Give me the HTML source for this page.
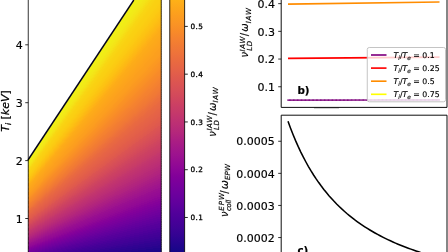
<!DOCTYPE html><html><head><meta charset="utf-8"><style>html,body{margin:0;padding:0;background:#fff;overflow:hidden}svg{display:block}</style></head><body><svg width="448" height="252" viewBox="0 0 448 252" font-family="'DejaVu Sans','Liberation Sans',sans-serif"><defs><linearGradient id="cb" gradientUnits="userSpaceOnUse" x1="0" y1="-20" x2="0" y2="272"><stop offset="0.0000" stop-color="#fbcc12"/><stop offset="0.0250" stop-color="#fdc212"/><stop offset="0.0500" stop-color="#fdb914"/><stop offset="0.0750" stop-color="#feae18"/><stop offset="0.1000" stop-color="#fda51b"/><stop offset="0.1250" stop-color="#fc9c1f"/><stop offset="0.1500" stop-color="#fa9424"/><stop offset="0.1750" stop-color="#f88b28"/><stop offset="0.2000" stop-color="#f5822f"/><stop offset="0.2250" stop-color="#f17a34"/><stop offset="0.2500" stop-color="#ee733a"/><stop offset="0.2750" stop-color="#ea6b3f"/><stop offset="0.3000" stop-color="#e66445"/><stop offset="0.3250" stop-color="#e15c4b"/><stop offset="0.3500" stop-color="#dc5551"/><stop offset="0.3750" stop-color="#d74f57"/><stop offset="0.4000" stop-color="#d2485c"/><stop offset="0.4250" stop-color="#cc4063"/><stop offset="0.4500" stop-color="#c63a69"/><stop offset="0.4750" stop-color="#c03370"/><stop offset="0.5000" stop-color="#ba2d76"/><stop offset="0.5250" stop-color="#b3267c"/><stop offset="0.5500" stop-color="#ab1e83"/><stop offset="0.5750" stop-color="#a31889"/><stop offset="0.6000" stop-color="#9c128f"/><stop offset="0.6250" stop-color="#940b93"/><stop offset="0.6500" stop-color="#8b0597"/><stop offset="0.6750" stop-color="#81009a"/><stop offset="0.7000" stop-color="#78009c"/><stop offset="0.7250" stop-color="#6f009d"/><stop offset="0.7500" stop-color="#66009d"/><stop offset="0.7750" stop-color="#5c009c"/><stop offset="0.8000" stop-color="#51009a"/><stop offset="0.8250" stop-color="#480098"/><stop offset="0.8500" stop-color="#3e0295"/><stop offset="0.8750" stop-color="#330392"/><stop offset="0.9000" stop-color="#26048e"/><stop offset="0.9250" stop-color="#190689"/><stop offset="0.9500" stop-color="#0d0785"/><stop offset="0.9750" stop-color="#0d0785"/><stop offset="1.0000" stop-color="#0d0785"/></linearGradient><clipPath id="hm"><polygon points="28.25,160 133.81,0 161.25,0 161.25,252 28.25,252"/></clipPath></defs><rect width="448" height="252" fill="#fff"/><g clip-path="url(#hm)" shape-rendering="crispEdges"><polygon points="-48.15,276.40 551.85,276.40 551.77,266.36" fill="#0d0785"/><polygon points="-48.15,276.40 551.82,269.99 551.62,259.95" fill="#0d0785"/><polygon points="-48.15,276.40 551.71,263.59 551.41,253.55" fill="#0d0785"/><polygon points="-48.15,276.40 551.54,257.18 551.14,247.16" fill="#0d0785"/><polygon points="-48.15,276.40 551.30,250.79 550.79,240.78" fill="#0d0785"/><polygon points="-48.15,276.40 551.00,244.40 550.38,234.41" fill="#0d0785"/><polygon points="-48.15,276.40 550.62,238.03 549.90,228.06" fill="#0d0785"/><polygon points="-48.15,276.40 550.18,231.66 549.35,221.72" fill="#0d0785"/><polygon points="-48.15,276.40 549.67,225.32 548.74,215.40" fill="#0d0785"/><polygon points="-48.15,276.40 549.10,218.99 548.06,209.10" fill="#0d0785"/><polygon points="-48.15,276.40 548.46,212.68 547.32,202.83" fill="#160688"/><polygon points="-48.15,276.40 547.75,206.39 546.52,196.57" fill="#1d058b"/><polygon points="-48.15,276.40 546.98,200.12 545.65,190.35" fill="#22048c"/><polygon points="-48.15,276.40 546.15,193.88 544.72,184.15" fill="#28048e"/><polygon points="-48.15,276.40 545.25,187.66 543.72,177.98" fill="#2e0390"/><polygon points="-48.15,276.40 544.29,181.48 542.67,171.85" fill="#310392"/><polygon points="-48.15,276.40 543.28,175.33 541.56,165.75" fill="#370293"/><polygon points="-48.15,276.40 542.20,169.21 540.39,159.68" fill="#3c0295"/><polygon points="-48.15,276.40 541.06,163.12 539.16,153.65" fill="#410196"/><polygon points="-48.15,276.40 539.86,157.07 537.88,147.66" fill="#440197"/><polygon points="-48.15,276.40 538.61,151.05 536.54,141.71" fill="#490099"/><polygon points="-48.15,276.40 537.30,145.08 535.14,135.80" fill="#4e009a"/><polygon points="-48.15,276.40 535.94,139.15 533.70,129.93" fill="#53009b"/><polygon points="-48.15,276.40 534.52,133.26 532.20,124.11" fill="#56009b"/><polygon points="-48.15,276.40 533.06,127.41 530.65,118.33" fill="#5b009c"/><polygon points="-48.15,276.40 531.54,121.61 529.06,112.60" fill="#60009d"/><polygon points="-48.15,276.40 529.97,115.85 527.42,106.92" fill="#64009d"/><polygon points="-48.15,276.40 528.35,110.14 525.73,101.29" fill="#69009d"/><polygon points="-48.15,276.40 526.69,104.48 524.00,95.71" fill="#6e009d"/><polygon points="-48.15,276.40 524.98,98.87 522.22,90.18" fill="#72009d"/><polygon points="-48.15,276.40 523.23,93.31 520.40,84.70" fill="#77009c"/><polygon points="-48.15,276.40 521.44,87.80 518.54,79.27" fill="#7b009c"/><polygon points="-48.15,276.40 519.60,82.34 516.64,73.90" fill="#80009b"/><polygon points="-48.15,276.40 517.73,76.94 514.71,68.58" fill="#84019a"/><polygon points="-48.15,276.40 515.81,71.59 512.74,63.32" fill="#880398"/><polygon points="-48.15,276.40 513.86,66.30 510.73,58.11" fill="#8d0696"/><polygon points="-48.15,276.40 511.87,61.06 508.69,52.96" fill="#910995"/><polygon points="-48.15,276.40 509.85,55.88 506.62,47.86" fill="#940b93"/><polygon points="-48.15,276.40 507.80,50.75 504.52,42.83" fill="#960d92"/><polygon points="-48.15,276.40 505.72,45.68 502.39,37.85" fill="#990f90"/><polygon points="-48.15,276.40 503.60,40.67 500.23,32.92" fill="#9d138e"/><polygon points="-48.15,276.40 501.46,35.71 498.04,28.06" fill="#a0158c"/><polygon points="-48.15,276.40 499.29,30.81 495.83,23.26" fill="#a31889"/><polygon points="-48.15,276.40 497.09,25.98 493.60,18.51" fill="#a61a87"/><polygon points="-48.15,276.40 494.87,21.20 491.34,13.82" fill="#aa1d84"/><polygon points="-48.15,276.40 492.63,16.47 489.06,9.19" fill="#ac2082"/><polygon points="-48.15,276.40 490.36,11.81 486.77,4.62" fill="#b0237f"/><polygon points="-48.15,276.40 488.07,7.21 484.45,0.11" fill="#b2257d"/><polygon points="-48.15,276.40 485.77,2.66 482.12,-4.34" fill="#b5287a"/><polygon points="-48.15,276.40 483.44,-1.82 479.77,-8.74" fill="#b72a78"/><polygon points="-48.15,276.40 481.10,-6.25 477.40,-13.07" fill="#ba2d76"/><polygon points="-48.15,276.40 478.75,-10.62 475.02,-17.35" fill="#bc2f74"/><polygon points="-48.15,276.40 476.37,-14.93 472.63,-21.57" fill="#be3172"/><polygon points="-48.15,276.40 473.99,-19.18 470.23,-25.73" fill="#c03370"/><polygon points="-48.15,276.40 471.59,-23.38 467.81,-29.84" fill="#c2356e"/><polygon points="-48.15,276.40 469.18,-27.52 465.39,-33.88" fill="#c4386c"/><polygon points="-48.15,276.40 466.77,-31.59 462.96,-37.87" fill="#c73b68"/><polygon points="-48.15,276.40 464.34,-35.62 460.52,-41.81" fill="#c93d66"/><polygon points="-48.15,276.40 461.90,-39.58 458.07,-45.68" fill="#cb3f64"/><polygon points="-48.15,276.40 459.46,-43.49 455.62,-49.51" fill="#cc4162"/><polygon points="-48.15,276.40 457.01,-47.34 453.17,-53.27" fill="#ce4460"/><polygon points="-48.15,276.40 454.56,-51.14 450.71,-56.98" fill="#d0465e"/><polygon points="-48.15,276.40 452.10,-54.88 448.24,-60.64" fill="#d3495b"/><polygon points="-48.15,276.40 449.64,-58.57 445.78,-64.24" fill="#d54b5a"/><polygon points="-48.15,276.40 447.18,-62.20 443.31,-67.79" fill="#d64e58"/><polygon points="-48.15,276.40 444.71,-65.78 440.84,-71.28" fill="#d85056"/><polygon points="-48.15,276.40 442.24,-69.31 438.38,-74.73" fill="#da5254"/><polygon points="-48.15,276.40 439.78,-72.78 435.91,-78.12" fill="#db5452"/><polygon points="-48.15,276.40 437.31,-76.20 433.45,-81.46" fill="#de584f"/><polygon points="-48.15,276.40 434.85,-79.57 430.99,-84.75" fill="#df5a4d"/><polygon points="-48.15,276.40 432.38,-82.89 428.53,-87.99" fill="#e15c4b"/><polygon points="-48.15,276.40 429.92,-86.15 426.07,-91.17" fill="#e25d4a"/><polygon points="-48.15,276.40 427.47,-89.37 423.62,-94.31" fill="#e36048"/><polygon points="-48.15,276.40 425.01,-92.54 421.18,-97.41" fill="#e46148"/><polygon points="-48.15,276.40 422.57,-95.66 418.74,-100.45" fill="#e56346"/><polygon points="-48.15,276.40 420.12,-98.73 416.30,-103.44" fill="#e66445"/><polygon points="-48.15,276.40 417.69,-101.75 413.88,-106.39" fill="#e76743"/><polygon points="-48.15,276.40 415.25,-104.73 411.46,-109.30" fill="#e86842"/><polygon points="-48.15,276.40 412.83,-107.66 409.04,-112.16" fill="#e96a40"/><polygon points="-48.15,276.40 410.41,-110.54 406.64,-114.97" fill="#eb6d3e"/><polygon points="-48.15,276.40 408.00,-113.38 404.24,-117.74" fill="#ec6f3c"/><polygon points="-48.15,276.40 405.60,-116.17 401.85,-120.46" fill="#ed723b"/><polygon points="-48.15,276.40 403.20,-118.92 399.47,-123.15" fill="#ef7538"/><polygon points="-48.15,276.40 400.82,-121.63 397.10,-125.79" fill="#f07836"/><polygon points="-48.15,276.40 398.44,-124.29 394.74,-128.38" fill="#f17a34"/><polygon points="-48.15,276.40 396.08,-126.91 392.39,-130.94" fill="#f27c33"/><polygon points="-48.15,276.40 393.72,-129.49 390.05,-133.46" fill="#f37e31"/><polygon points="-48.15,276.40 391.38,-132.03 387.72,-135.93" fill="#f48130"/><polygon points="-48.15,276.40 389.04,-134.53 385.40,-138.37" fill="#f5822f"/><polygon points="-48.15,276.40 386.71,-136.99 383.09,-140.77" fill="#f6852d"/><polygon points="-48.15,276.40 384.40,-139.41 380.80,-143.13" fill="#f7872b"/><polygon points="-48.15,276.40 382.10,-141.79 378.51,-145.45" fill="#f78a29"/><polygon points="-48.15,276.40 379.81,-144.14 376.24,-147.74" fill="#f88b28"/><polygon points="-48.15,276.40 377.53,-146.45 373.98,-149.99" fill="#f98e27"/><polygon points="-48.15,276.40 375.26,-148.72 371.73,-152.20" fill="#f99125"/><polygon points="-48.15,276.40 373.01,-150.95 369.49,-154.38" fill="#fa9224"/><polygon points="-48.15,276.40 370.76,-153.15 367.27,-156.53" fill="#fa9523"/><polygon points="-48.15,276.40 368.53,-155.31 365.06,-158.64" fill="#fb9821"/><polygon points="-48.15,276.40 366.31,-157.44 362.86,-160.71" fill="#fb9921"/><polygon points="-48.15,276.40 364.11,-159.54 360.68,-162.76" fill="#fc9c1f"/><polygon points="-48.15,276.40 361.92,-161.60 358.51,-164.77" fill="#fc9e1f"/><polygon points="-48.15,276.40 359.74,-163.63 356.35,-166.75" fill="#fc9f1e"/><polygon points="-48.15,276.40 357.57,-165.63 354.21,-168.70" fill="#fca01d"/><polygon points="-48.15,276.40 355.42,-167.59 352.07,-170.61" fill="#fda21d"/><polygon points="-48.15,276.40 353.28,-169.53 349.96,-172.50" fill="#fda31c"/><polygon points="-48.15,276.40 351.16,-171.43 347.85,-174.36" fill="#fda51b"/><polygon points="-48.15,276.40 349.05,-173.31 345.76,-176.18" fill="#fda61b"/><polygon points="-48.15,276.40 346.95,-175.15 343.69,-177.98" fill="#fda81a"/><polygon points="-48.15,276.40 344.86,-176.97 341.62,-179.75" fill="#fda919"/><polygon points="-48.15,276.40 342.79,-178.75 339.57,-181.50" fill="#fdab19"/><polygon points="-48.15,276.40 340.74,-180.51 337.54,-183.21" fill="#fdac18"/><polygon points="-48.15,276.40 338.69,-182.24 335.52,-184.90" fill="#feaf17"/><polygon points="-48.15,276.40 336.66,-183.95 333.51,-186.56" fill="#feb216"/><polygon points="-48.15,276.40 334.65,-185.62 331.51,-188.20" fill="#feb615"/><polygon points="-48.15,276.40 332.65,-187.28 329.53,-189.81" fill="#fdb914"/><polygon points="-48.15,276.40 330.66,-188.90 327.57,-191.40" fill="#fdbc13"/><polygon points="-48.15,276.40 328.68,-190.50 325.62,-192.96" fill="#fdbf13"/><polygon points="-48.15,276.40 326.72,-192.08 323.68,-194.50" fill="#fdc212"/><polygon points="-48.15,276.40 324.78,-193.63 321.75,-196.01" fill="#fcc412"/><polygon points="-48.15,276.40 322.84,-195.15 319.84,-197.50" fill="#fcc612"/><polygon points="-48.15,276.40 320.93,-196.66 317.94,-198.97" fill="#fcc912"/><polygon points="-48.15,276.40 319.02,-198.14 316.06,-200.41" fill="#fbcb12"/><polygon points="-48.15,276.40 317.13,-199.60 314.19,-201.83" fill="#fbcc12"/><polygon points="-48.15,276.40 315.25,-201.03 312.34,-203.24" fill="#fbce12"/><polygon points="-48.15,276.40 313.39,-202.44 310.49,-204.61" fill="#fad012"/><polygon points="-48.15,276.40 311.54,-203.83 308.66,-205.97" fill="#fad012"/><polygon points="-48.15,276.40 309.70,-205.20 306.85,-207.31" fill="#fad112"/><polygon points="-48.15,276.40 307.88,-206.55 305.05,-208.63" fill="#f9d313"/><polygon points="-48.15,276.40 306.07,-207.88 303.26,-209.93" fill="#f9d513"/><polygon points="-48.15,276.40 304.27,-209.19 301.48,-211.20" fill="#f8d613"/><polygon points="-48.15,276.40 302.49,-210.48 299.72,-212.46" fill="#f7da14"/><polygon points="-48.15,276.40 300.72,-211.75 297.97,-213.70" fill="#f6dd15"/><polygon points="-48.15,276.40 298.96,-213.00 296.24,-214.92" fill="#f5e116"/><polygon points="-48.15,276.40 297.22,-214.23 294.51,-216.12" fill="#f4e417"/><polygon points="-48.15,276.40 295.49,-215.44 292.81,-217.31" fill="#f3e617"/><polygon points="-48.15,276.40 293.77,-216.64 291.11,-218.48" fill="#f3e818"/><polygon points="-48.15,276.40 292.07,-217.82 289.43,-219.63" fill="#f1eb17"/><polygon points="-48.15,276.40 290.38,-218.98 287.75,-220.76" fill="#f1eb17"/><polygon points="-48.15,276.40 288.70,-220.12 286.10,-221.88" fill="#f1ed17"/><polygon points="-48.15,276.40 287.04,-221.24 284.45,-222.98" fill="#f0ef15"/><polygon points="-48.15,276.40 285.38,-222.35 282.82,-224.06" fill="#f0ef15"/><polygon points="-48.15,276.40 283.74,-223.45 281.20,-225.13" fill="#f0f013"/><polygon points="-48.15,276.40 282.12,-224.52 279.59,-226.18" fill="#f0f013"/><polygon points="-48.15,276.40 280.50,-225.58 277.99,-227.22" fill="#f0f013"/><polygon points="-48.15,276.40 278.90,-226.63 276.41,-228.24" fill="#f0f013"/><polygon points="-48.15,276.40 277.31,-227.66 274.84,-229.25" fill="#f0f013"/><polygon points="-48.15,276.40 275.73,-228.68 273.28,-230.24" fill="#f0f013"/><polygon points="-48.15,276.40 274.16,-229.68 271.73,-231.22" fill="#f0f013"/><polygon points="-48.15,276.40 272.61,-230.66 270.20,-232.18" fill="#f0f013"/></g><line x1="28.0" y1="160" x2="133.81" y2="0" stroke="#03031c" stroke-width="1.45"/><line x1="28.25" y1="0" x2="28.25" y2="252" stroke="#000" stroke-width="0.8"/><line x1="161.25" y1="0" x2="161.25" y2="252" stroke="#000" stroke-width="0.8"/><line x1="25.25" y1="218.5" x2="28.25" y2="218.5" stroke="#000" stroke-width="0.8"/><text x="22.65" y="222.7" font-size="11" text-anchor="end" stroke="#000" stroke-width="0.17">1</text><line x1="25.25" y1="160.6" x2="28.25" y2="160.6" stroke="#000" stroke-width="0.8"/><text x="22.65" y="164.79999999999998" font-size="11" text-anchor="end" stroke="#000" stroke-width="0.17">2</text><line x1="25.25" y1="102.7" x2="28.25" y2="102.7" stroke="#000" stroke-width="0.8"/><text x="22.65" y="106.9" font-size="11" text-anchor="end" stroke="#000" stroke-width="0.17">3</text><line x1="25.25" y1="44.80000000000001" x2="28.25" y2="44.80000000000001" stroke="#000" stroke-width="0.8"/><text x="22.65" y="49.000000000000014" font-size="11" text-anchor="end" stroke="#000" stroke-width="0.17">4</text><text transform="translate(8.6,111) rotate(-90)" font-size="11" text-anchor="middle" stroke="#000" stroke-width="0.25"><tspan font-style="italic">T</tspan><tspan font-size="7.7" dy="2" font-style="italic">i</tspan><tspan dy="-2"> [</tspan><tspan font-style="italic">keV</tspan>]</text><rect x="169.8" y="-5" width="14.899999999999977" height="262" fill="url(#cb)" stroke="#000" stroke-width="0.8"/><line x1="184.7" y1="217.48" x2="187.79999999999998" y2="217.48" stroke="#111" stroke-width="0.9"/><text x="190.5" y="220.08" font-size="7.3" letter-spacing="0.4" stroke="#000" stroke-width="0.3">0.1</text><line x1="184.7" y1="169.71" x2="187.79999999999998" y2="169.71" stroke="#111" stroke-width="0.9"/><text x="190.5" y="172.31" font-size="7.3" letter-spacing="0.4" stroke="#000" stroke-width="0.3">0.2</text><line x1="184.7" y1="121.94" x2="187.79999999999998" y2="121.94" stroke="#111" stroke-width="0.9"/><text x="190.5" y="124.54" font-size="7.3" letter-spacing="0.4" stroke="#000" stroke-width="0.3">0.3</text><line x1="184.7" y1="74.17" x2="187.79999999999998" y2="74.17" stroke="#111" stroke-width="0.9"/><text x="190.5" y="76.77" font-size="7.3" letter-spacing="0.4" stroke="#000" stroke-width="0.3">0.4</text><line x1="184.7" y1="26.40" x2="187.79999999999998" y2="26.40" stroke="#111" stroke-width="0.9"/><text x="190.5" y="29.00" font-size="7.3" letter-spacing="0.4" stroke="#000" stroke-width="0.3">0.5</text><g transform="translate(215.6,136.8) rotate(-90)" stroke="#000" stroke-width="0.17"><text x="0" y="0" font-size="10" font-style="italic">ν</text><text x="6.2" y="-3.7" font-size="7" font-style="italic" letter-spacing="0.6">IAW</text><text x="6.8" y="3.7" font-size="7" font-style="italic" letter-spacing="0.7">LD</text><text x="21.4" y="0" font-size="10">/</text><text x="25.8" y="0" font-size="10" font-style="italic">ω</text><text x="34.3" y="2.8" font-size="7" font-style="italic" letter-spacing="0.8">IAW</text></g><polyline points="281.2,-5 281.2,107.4 447.0,107.4 447.0,-5" stroke="#000" stroke-width="0.95" fill="none"/><polyline points="281.2,257 281.2,115.2 447.0,115.2 447.0,257" stroke="#000" stroke-width="0.95" fill="none"/><line x1="314" y1="108" x2="339" y2="108" stroke="#000" stroke-opacity="0.45" stroke-width="0.8"/><line x1="278.2" y1="86.75" x2="281.2" y2="86.75" stroke="#000" stroke-width="0.8"/><text x="274.9" y="90.95" font-size="11" text-anchor="end" stroke="#000" stroke-width="0.17">0.1</text><line x1="278.2" y1="59.05" x2="281.2" y2="59.05" stroke="#000" stroke-width="0.8"/><text x="274.9" y="63.25" font-size="11" text-anchor="end" stroke="#000" stroke-width="0.17">0.2</text><line x1="278.2" y1="31.35" x2="281.2" y2="31.35" stroke="#000" stroke-width="0.8"/><text x="274.9" y="35.55" font-size="11" text-anchor="end" stroke="#000" stroke-width="0.17">0.3</text><line x1="278.2" y1="3.65" x2="281.2" y2="3.65" stroke="#000" stroke-width="0.8"/><text x="274.9" y="7.85" font-size="11" text-anchor="end" stroke="#000" stroke-width="0.17">0.4</text><line x1="287.6" y1="100.35" x2="439.6" y2="100.05" stroke="#800080" stroke-opacity="0.7" stroke-width="1.5"/><line x1="287.6" y1="100.15" x2="439.6" y2="99.85" stroke="#7a007a" stroke-width="1.7" stroke-dasharray="0.8 0.55"/><line x1="288" y1="58.3" x2="439.5" y2="57.2" stroke="#ff0000" stroke-width="1.8"/><line x1="288" y1="4.15" x2="439.5" y2="1.95" stroke="#ff8c00" stroke-width="1.65"/><text x="297.4" y="94.2" font-size="10.3" font-weight="bold" stroke="#000" stroke-width="0.2">b)</text><g transform="translate(248.3,57.6) rotate(-90)" stroke="#000" stroke-width="0.17"><text x="0" y="0" font-size="10" font-style="italic">ν</text><text x="6.2" y="-3.7" font-size="7" font-style="italic" letter-spacing="0.6">IAW</text><text x="6.8" y="3.7" font-size="7" font-style="italic" letter-spacing="0.7">LD</text><text x="21.4" y="0" font-size="10">/</text><text x="25.8" y="0" font-size="10" font-style="italic">ω</text><text x="34.3" y="2.8" font-size="7" font-style="italic" letter-spacing="0.8">IAW</text></g><rect x="367.25" y="47.5" width="78.3" height="54.3" rx="2" fill="#fff" fill-opacity="0.8" stroke="#c4c4c4" stroke-width="1"/><line x1="371" y1="55.00" x2="386.5" y2="55.00" stroke="#800080" stroke-width="1.65"/><text x="393.5" y="57.80" font-size="7.8" stroke="#000" stroke-width="0.15"><tspan font-style="italic">T</tspan><tspan font-style="italic" font-size="5.8" dy="1.7">i</tspan><tspan dy="-1.7">/</tspan><tspan font-style="italic">T</tspan><tspan font-style="italic" font-size="5.8" dy="1.7">e</tspan><tspan dy="-1.7"> = 0.1</tspan></text><line x1="371" y1="68.10" x2="386.5" y2="68.10" stroke="#ff0000" stroke-width="1.65"/><text x="393.5" y="70.90" font-size="7.8" stroke="#000" stroke-width="0.15"><tspan font-style="italic">T</tspan><tspan font-style="italic" font-size="5.8" dy="1.7">i</tspan><tspan dy="-1.7">/</tspan><tspan font-style="italic">T</tspan><tspan font-style="italic" font-size="5.8" dy="1.7">e</tspan><tspan dy="-1.7"> = 0.25</tspan></text><line x1="371" y1="81.20" x2="386.5" y2="81.20" stroke="#ff8c00" stroke-width="1.65"/><text x="393.5" y="84.00" font-size="7.8" stroke="#000" stroke-width="0.15"><tspan font-style="italic">T</tspan><tspan font-style="italic" font-size="5.8" dy="1.7">i</tspan><tspan dy="-1.7">/</tspan><tspan font-style="italic">T</tspan><tspan font-style="italic" font-size="5.8" dy="1.7">e</tspan><tspan dy="-1.7"> = 0.5</tspan></text><line x1="371" y1="94.30" x2="386.5" y2="94.30" stroke="#ffff00" stroke-width="1.65"/><text x="393.5" y="97.10" font-size="7.8" stroke="#000" stroke-width="0.15"><tspan font-style="italic">T</tspan><tspan font-style="italic" font-size="5.8" dy="1.7">i</tspan><tspan dy="-1.7">/</tspan><tspan font-style="italic">T</tspan><tspan font-style="italic" font-size="5.8" dy="1.7">e</tspan><tspan dy="-1.7"> = 0.75</tspan></text><line x1="278.2" y1="141.25" x2="281.2" y2="141.25" stroke="#000" stroke-width="0.8"/><text x="274.7" y="145.45" font-size="11" text-anchor="end" stroke="#000" stroke-width="0.17">0.0005</text><line x1="278.2" y1="173.35" x2="281.2" y2="173.35" stroke="#000" stroke-width="0.8"/><text x="274.7" y="177.55" font-size="11" text-anchor="end" stroke="#000" stroke-width="0.17">0.0004</text><line x1="278.2" y1="205.45" x2="281.2" y2="205.45" stroke="#000" stroke-width="0.8"/><text x="274.7" y="209.65" font-size="11" text-anchor="end" stroke="#000" stroke-width="0.17">0.0003</text><line x1="278.2" y1="237.55" x2="281.2" y2="237.55" stroke="#000" stroke-width="0.8"/><text x="274.7" y="241.75" font-size="11" text-anchor="end" stroke="#000" stroke-width="0.17">0.0002</text><polyline points="288.00,121.30 290.56,128.25 293.12,134.77 295.68,140.90 298.24,146.65 300.80,152.07 303.36,157.18 305.92,162.01 308.47,166.58 311.03,170.90 313.59,174.99 316.15,178.88 318.71,182.57 321.27,186.08 323.83,189.43 326.39,192.61 328.95,195.65 331.51,198.54 334.07,201.31 336.63,203.96 339.19,206.49 341.75,208.92 344.31,211.24 346.86,213.47 349.42,215.61 351.98,217.66 354.54,219.64 357.10,221.53 359.66,223.36 362.22,225.12 364.78,226.81 367.34,228.44 369.90,230.01 372.46,231.53 375.02,232.99 377.58,234.41 380.14,235.77 382.69,237.10 385.25,238.37 387.81,239.61 390.37,240.81 392.93,241.96 395.49,243.09 398.05,244.17 400.61,245.23 403.17,246.25 405.73,247.24 408.29,248.20 410.85,249.14 413.41,250.05 415.97,250.93 418.53,251.79 421.08,252.62 423.64,253.43 426.20,254.22 428.76,254.99 431.32,255.73 433.88,256.46 436.44,257.17 439.00,257.86" stroke="#000" stroke-width="1.55" fill="none"/><text x="297.4" y="253.9" font-size="10.3" font-weight="bold" stroke="#000" stroke-width="0.2">c)</text><g transform="translate(227.8,217) rotate(-90)" stroke="#000" stroke-width="0.17"><text x="0" y="0" font-size="10" font-style="italic">ν</text><text x="6.3" y="-3.9" font-size="7" font-style="italic" letter-spacing="1.0">EPW</text><text x="6.0" y="3.2" font-size="7" font-style="italic" letter-spacing="-0.3">coll</text><text x="23.2" y="0" font-size="10">/</text><text transform="translate(27.8,0) scale(1.1,1)" font-size="10" font-style="italic">ω</text><text x="36.9" y="2.6" font-size="7" font-style="italic" letter-spacing="0.25">EPW</text></g></svg></body></html>
